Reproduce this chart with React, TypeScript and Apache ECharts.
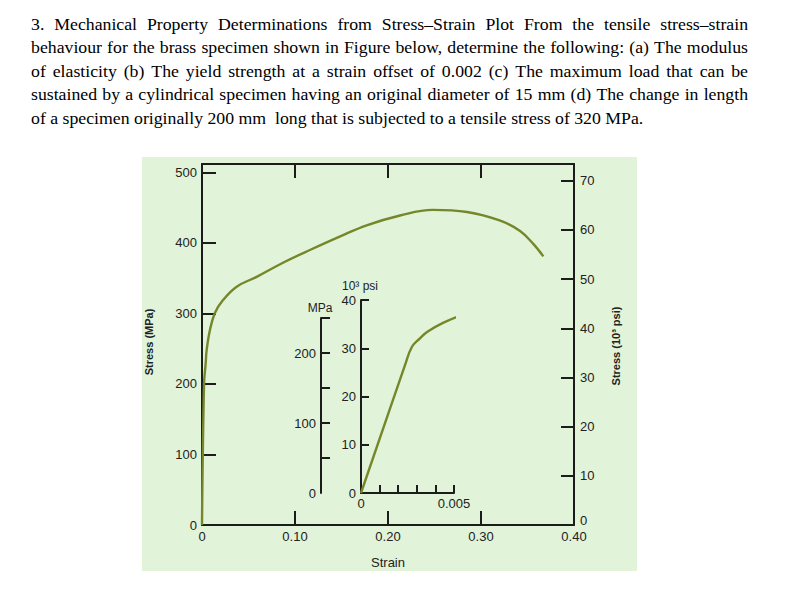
import React, { useEffect, useRef } from "react";
import * as echarts from "echarts";

// Problem statement, one entry per printed line (all but the last are justified).
const questionLines = [
  "3. Mechanical Property Determinations from Stress\u2013Strain Plot From the tensile stress\u2013strain",
  "behaviour for the brass specimen shown in Figure below, determine the following: (a) The modulus",
  "of elasticity (b) The yield strength at a strain offset of 0.002 (c) The maximum load that can be",
  "sustained by a cylindrical specimen having an original diameter of 15 mm (d) The change in length",
  "of a specimen originally 200 mm  long that is subjected to a tensile stress of 320 MPa.",
];

// Full stress-strain curve of the brass specimen (strain, MPa).
const mainStrain = [0, 0.0022, 0.004, 0.005, 0.0086, 0.014, 0.0226, 0.0373, 0.0588, 0.0871, 0.116, 0.148, 0.177, 0.213, 0.248, 0.285, 0.32, 0.342, 0.356, 0.367];
const mainStress = [0, 200, 230, 248, 277, 301, 319, 338, 352, 372, 390, 409, 425, 439, 447, 444, 432, 417, 399, 381];

// Enlarged elastic region (strain, MPa).
const insetStrain = [0, 0.00237, 0.00274, 0.00317, 0.00355, 0.00441, 0.00559];
const insetStress = [0, 183, 209, 221, 230, 243, 256];

// Axis ticks and labels.
const strainLabels = [0, 0.1, 0.2, 0.3, 0.4];
const strainTicks = [0.1, 0.2, 0.3];
const mpaLabels = [0, 100, 200, 300, 400, 500];
const mpaTicks = [100, 200, 300, 400, 500];
const psiLabels = [0, 10, 20, 30, 40, 50, 60, 70];
const psiTicks = [10, 20, 30, 40, 50, 60, 70];
const insetStrainTicks = [0.001, 0.002, 0.003, 0.004, 0.005];
const insetStrainLabels = [0, 0.005];
const insetPsiLabels = [0, 10, 20, 30, 40];
const insetPsiTicks = [10, 20, 30, 40];
const insetMpaLabels = [0, 100, 200];
const insetMpaTicks = [50, 100, 150, 200, 250];

const MPA_PER_KSI = 6.894757;

const INK = "#1c1c1c";
const CURVE = "#76862a";
const SANS = "Liberation Sans";
const SERIF = "Liberation Serif";

const labelStyle = { color: "#222", fontFamily: SANS, fontSize: 13 };

function axisLine(width = 2) {
  return { show: true, onZero: false, lineStyle: { color: INK, width } };
}

// Lays the statement out word by word so that every line but the last
// runs flush from the left margin to the right margin.
function justifiedParagraph(): any[] {
  const ctx = document.createElement("canvas").getContext("2d");
  const left = 31;
  const right = 748;
  const lastLineWidth = 615;
  const firstMiddle = 24;
  const lineStep = 23.4;
  const out: any[] = [];
  if (!ctx) return out;
  ctx.font = `16px "${SERIF}"`;
  const lastLine = questionLines[questionLines.length - 1];
  const natural = ctx.measureText(lastLine.replace("  ", " ")).width + ctx.measureText(" ").width;
  const fontSize = Math.round(((16 * lastLineWidth) / natural) * 4) / 4;
  ctx.font = `${fontSize}px "${SERIF}"`;
  const spaceW = ctx.measureText(" ").width;
  questionLines.forEach((line, i) => {
    const words = line.split(" ");
    const widths = words.map((w) => (w ? ctx.measureText(w).width : 0));
    const total = widths.reduce((a, b) => a + b, 0);
    const isLast = i === questionLines.length - 1;
    const gap = isLast ? spaceW : (right - left - total) / (words.length - 1);
    const y = firstMiddle + i * lineStep;
    let x = left;
    words.forEach((w, j) => {
      if (w) {
        out.push({
          type: "text",
          x,
          y,
          z: 10,
          style: {
            text: w,
            fontSize,
            fontFamily: SERIF,
            fill: "#000",
            align: "left",
            verticalAlign: "middle",
          },
        });
      }
      x += widths[j] + gap;
    });
  });
  return out;
}

function axisTitle(text: string, x: number, y: number, size: number, rotate = 0, weight = "normal") {
  return {
    type: "text",
    x,
    y,
    rotation: rotate,
    z: 10,
    style: {
      text,
      fontSize: size,
      fontFamily: SANS,
      fontWeight: weight,
      fill: "#222",
      align: "center",
      verticalAlign: "middle",
    },
  };
}

export default function App() {
  const ref = useRef<HTMLDivElement>(null);

  useEffect(() => {
    if (!ref.current) return;
    const chart = echarts.init(ref.current, undefined, { renderer: "svg" });

    const mainData = mainStrain.map((s, i) => [s, mainStress[i]]);
    const insetData = insetStrain.map((s, i) => [s, insetStress[i]]);
    const strainFmt = (v: number) => (v === 0 ? "0" : v.toFixed(2));

    chart.setOption({
      animation: false,
      backgroundColor: "#ffffff",
      textStyle: { fontFamily: SANS },
      grid: [
        { left: 202, top: 164, width: 372, height: 361 },
        { left: 361, top: 300, width: 93, height: 193 },
        { left: 321, top: 318, width: 40, height: 175 },
      ],
      xAxis: [
        {
          type: "value",
          gridIndex: 0,
          position: "bottom",
          min: 0,
          max: 0.4,
          axisLine: axisLine(),
          axisTick: { show: true, inside: true, length: 14, customValues: strainTicks, lineStyle: { color: INK, width: 2 } },
          axisLabel: { ...labelStyle, margin: 5, customValues: strainLabels, formatter: strainFmt },
          splitLine: { show: false },
        },
        {
          type: "value",
          gridIndex: 0,
          position: "top",
          min: 0,
          max: 0.4,
          axisLine: axisLine(),
          axisTick: { show: true, inside: true, length: 14, customValues: strainTicks, lineStyle: { color: INK, width: 2 } },
          axisLabel: { show: false },
          splitLine: { show: false },
        },
        {
          type: "value",
          gridIndex: 1,
          position: "bottom",
          min: 0,
          max: 0.005,
          axisLine: axisLine(),
          axisTick: { show: true, inside: true, length: 8, customValues: insetStrainTicks, lineStyle: { color: INK, width: 2 } },
          axisLabel: {
            ...labelStyle,
            margin: 4,
            customValues: insetStrainLabels,
            formatter: (v: number) => (v === 0 ? "0" : "0.005"),
          },
          splitLine: { show: false },
        },
        { type: "value", gridIndex: 2, min: 0, max: 1, show: false },
      ],
      yAxis: [
        {
          type: "value",
          gridIndex: 0,
          position: "left",
          min: 0,
          max: 512,
          axisLine: axisLine(),
          axisTick: { show: true, inside: true, length: 14, customValues: mpaTicks, lineStyle: { color: INK, width: 2 } },
          axisLabel: { ...labelStyle, margin: 5, customValues: mpaLabels },
          splitLine: { show: false },
        },
        {
          type: "value",
          gridIndex: 0,
          position: "right",
          min: 0,
          max: 73.4,
          axisLine: axisLine(),
          axisTick: { show: true, inside: true, length: 13, customValues: psiTicks, lineStyle: { color: INK, width: 2 } },
          axisLabel: {
            ...labelStyle,
            margin: 6,
            customValues: psiLabels,
            // the zero sits just above the strain label 0.40 at the corner
            formatter: (v: number) => (v === 0 ? "{z|0}" : String(v)),
            rich: { z: { ...labelStyle, padding: [0, 0, 9, 0] } },
          },
          splitLine: { show: false },
        },
        {
          type: "value",
          gridIndex: 1,
          position: "left",
          min: 0,
          max: 40,
          axisLine: axisLine(),
          axisTick: { show: true, inside: true, length: 8, customValues: insetPsiTicks, lineStyle: { color: INK, width: 2 } },
          axisLabel: { ...labelStyle, margin: 5, customValues: insetPsiLabels },
          splitLine: { show: false },
        },
        {
          type: "value",
          gridIndex: 1,
          min: 0,
          max: 40 * MPA_PER_KSI,
          show: false,
        },
        {
          type: "value",
          gridIndex: 2,
          position: "left",
          min: 0,
          max: 250,
          axisLine: axisLine(),
          axisTick: { show: true, inside: true, length: 9, customValues: insetMpaTicks, lineStyle: { color: INK, width: 2 } },
          axisLabel: { ...labelStyle, margin: 5, customValues: insetMpaLabels },
          splitLine: { show: false },
        },
      ],
      series: [
        {
          type: "line",
          name: "Brass",
          xAxisIndex: 0,
          yAxisIndex: 0,
          data: mainData,
          smooth: 0.4,
          showSymbol: false,
          lineStyle: { color: CURVE, width: 2.4 },
          z: 5,
        },
        {
          type: "line",
          name: "Elastic region",
          xAxisIndex: 2,
          yAxisIndex: 3,
          data: insetData,
          smooth: 0.4,
          showSymbol: false,
          clip: false,
          lineStyle: { color: CURVE, width: 2.4 },
          z: 5,
        },
      ],
      graphic: [
        {
          type: "rect",
          z: -10,
          shape: { x: 142, y: 157, width: 495, height: 414 },
          style: { fill: "#e1f3d9" },
          silent: true,
        },
        ...justifiedParagraph(),
        axisTitle("Stress (MPa)", 149, 342, 11, Math.PI / 2, "bold"),
        axisTitle("Stress (10\u00b3 psi)", 616, 346, 11, Math.PI / 2, "bold"),
        axisTitle("Strain", 388, 562, 13),
        axisTitle("MPa", 320, 308, 12),
        axisTitle("10\u00b3 psi", 360, 286, 12),
      ],
    });

    return () => chart.dispose();
  }, []);

  return (
    <div
      ref={ref}
      style={{ position: "fixed", left: 0, top: 0, width: 786, height: 601, background: "#fff" }}
    />
  );
}
